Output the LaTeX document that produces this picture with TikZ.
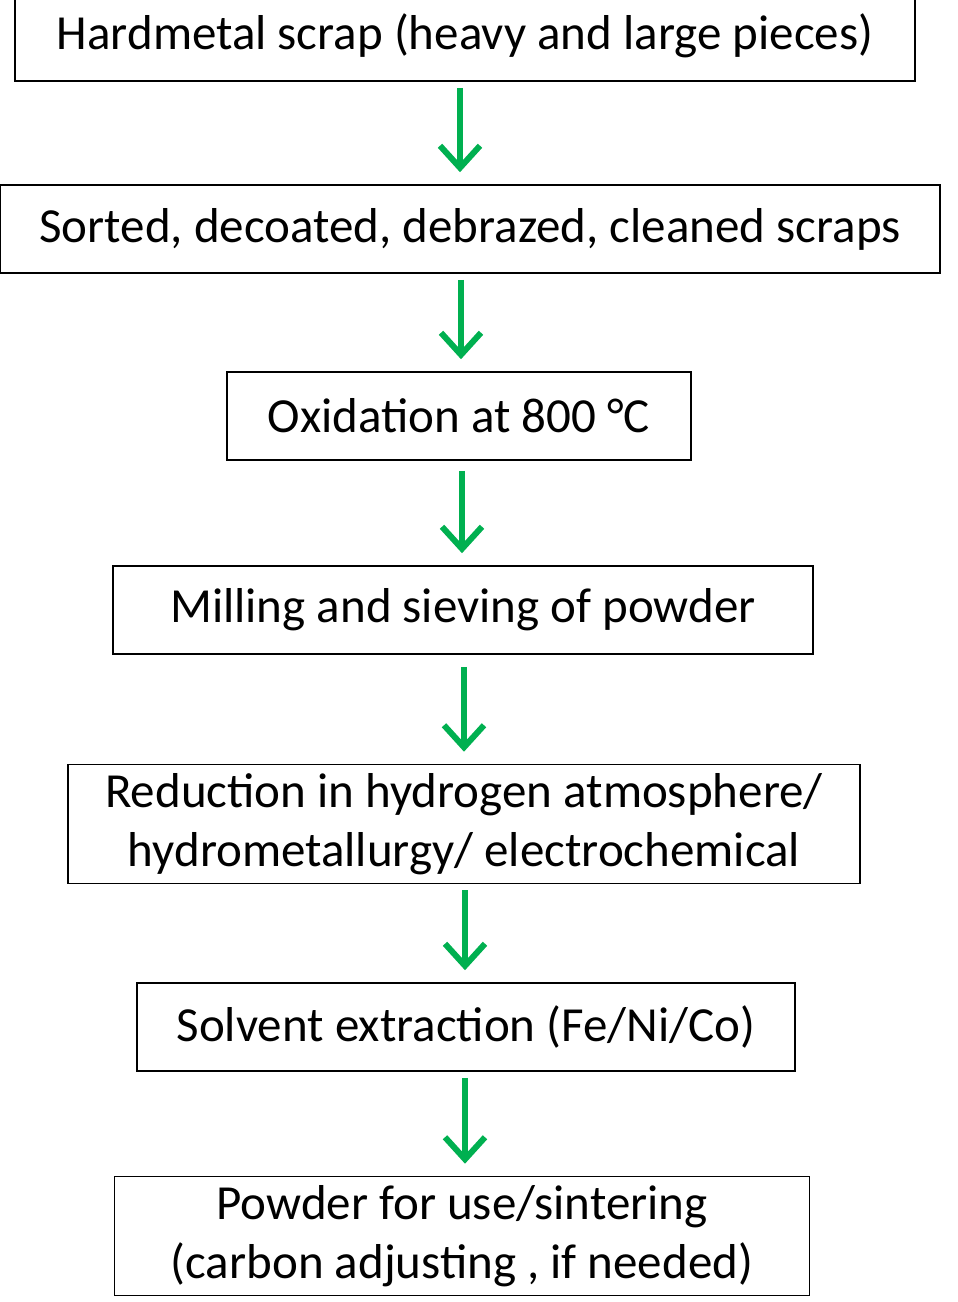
\documentclass[tikz,border=0pt]{standalone}
\usepackage{fontspec}
\setmainfont{Carlito}
\usetikzlibrary{arrows.meta}
\definecolor{arrgreen}{RGB}{0,176,80}
\begin{document}
\begin{tikzpicture}[x=1pt,y=-1pt,
  box/.style={draw,line width=1.6pt,inner sep=0pt,align=center,font=\fontsize{49}{59}\selectfont},
  flow/.style={arrgreen,line width=6pt,-{Straight Barb[length=22pt,width=40pt,line width=6pt]}}]
\useasboundingbox (0,0) rectangle (958,1302);
\node[box,minimum width=900,minimum height=90] (a) at (465,36) {Hardmetal scrap (heavy and large pieces)};
\node[box,minimum width=940,minimum height=88] (b) at (470,229) {Sorted, decoated, debrazed, cleaned scraps};
\node[box,minimum width=464,minimum height=88] (c) at (459,416) {Oxidation at 800 °C};
\node[box,minimum width=700,minimum height=88] (d) at (463,610) {Milling and sieving of powder};
\node[box,minimum width=792,minimum height=119] (e) at (464,824) {Reduction in hydrogen atmosphere/\\hydrometallurgy/ electrochemical};
\node[box,minimum width=658,minimum height=88] (f) at (466,1027) {Solvent extraction (Fe/Ni/Co)};
\node[box,minimum width=695,minimum height=119] (g) at (462,1236) {Powder for use/sintering\\(carbon adjusting , if needed)};
\draw[flow] ([yshift=-6]a.south -| 460,0) -- ([yshift=12]b.north -| 460,0);
\draw[flow] ([yshift=-6]b.south -| 461,0) -- ([yshift=12]c.north -| 461,0);
\draw[flow] ([yshift=-10]c.south -| 462,0) -- ([yshift=12]d.north -| 462,0);
\draw[flow] ([yshift=-12]d.south -| 464,0) -- ([yshift=12]e.north -| 464,0);
\draw[flow] ([yshift=-6]e.south -| 465,0) -- ([yshift=12]f.north -| 465,0);
\draw[flow] ([yshift=-6]f.south -| 465,0) -- ([yshift=12]g.north -| 465,0);
\end{tikzpicture}
\end{document}
